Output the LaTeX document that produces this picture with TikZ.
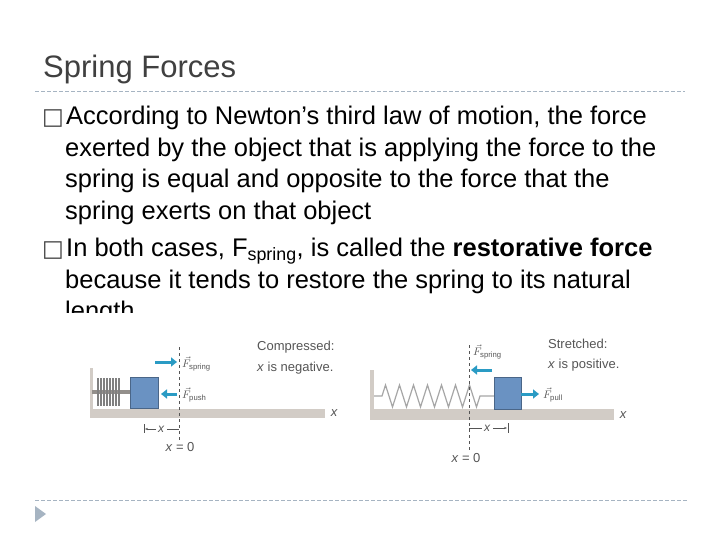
\documentclass[tikz,border=0pt]{standalone}
\usepackage{fontspec}
\setmainfont{Liberation Sans}
\newfontfamily\dejavu{DejaVu Sans}
\usetikzlibrary{arrows.meta,decorations.pathmorphing}
\definecolor{txt}{HTML}{000000}
\definecolor{ttl}{HTML}{404040}
\definecolor{rule}{HTML}{A6B4C2}
\definecolor{blk}{HTML}{6A92C2}
\definecolor{flr}{HTML}{D2CCC6}
\definecolor{arr}{HTML}{2A9BC4}
\definecolor{lab}{HTML}{555555}
\tikzset{
  body/.style={anchor=base west,inner sep=0pt,font=\fontsize{25.5}{25.5}\selectfont,text=txt},
  bul/.style={anchor=base west,inner sep=0pt,font=\dejavu\fontsize{23}{23}\selectfont,text=ttl},
  floor/.style={fill=flr,draw=none},
  block/.style={fill=blk,draw=blk!70!black,line width=0.3pt},
  farrow/.style={draw=arr,line width=3pt,-{Triangle[length=6pt,width=9pt]}},
  small/.style={inner sep=0pt,font=\fontsize{11}{11}\selectfont,text=lab},
  big/.style={inner sep=0pt,font=\fontsize{13}{13}\selectfont,text=lab},
  zero/.style={draw=lab,dashed,line width=0.5pt},
  dim/.style={draw=lab,line width=0.5pt}
}
\begin{document}
\begin{tikzpicture}[x=1pt,y=-1pt]
\useasboundingbox (0,0) rectangle (720,540);
\fill[white] (0,0) rectangle (720,540);
% title and rules
\node[anchor=base west,inner sep=0pt,font=\fontsize{31}{31}\selectfont,text=ttl] (title) at (43,78) {Spring Forces};
\draw[rule,dashed,dash pattern=on 4pt off 2pt,line width=0.6pt] (35,91) coordinate (r1a) -- (685,91) coordinate (r1b);
\draw[rule,dashed,dash pattern=on 4pt off 2pt,line width=0.6pt] (35,500) coordinate (r2a) -- (687,500) coordinate (r2b);
\fill[rule] (35,506) -- (46,514) -- (35,522) -- cycle;
% text
\node[bul] (b1) at (42,125) {□};
\node[body] (l1) at (66,125) {According to Newton’s third law of motion, the force};
\node[body] (l2) at (65,157) {exerted by the object that is applying the force to the};
\node[body] (l3) at (65,188) {spring is equal and opposite to the force that the};
\node[body] (l4) at (65,219) {spring exerts on that object};
\node[bul] (b2) at (42,256) {□};
\node[body] (l5) at (66,256) {In both cases, F\textsubscript{spring}, is called the \textbf{restorative force}};
\node[body] (l6) at (65,288) {because it tends to restore the spring to its natural};
\node[body] (l7) at (65,319) {length};
\fill[white] (40,313) rectangle (680,470);
% left figure
\fill[floor] (90,368) rectangle (93,418);
\fill[floor] (90,409) rectangle (325,418);
\fill[flr!70!black] (92,390) rectangle (132,394);
\foreach \i in {0,...,7} \draw[gray,line width=1.2pt] (98+\i*3,378) -- (98+\i*3,406);
\draw[block] (130,377) rectangle (158,408);
\draw[zero] (179,347) -- (179,453);
\draw[farrow] (155,362) -- (177,362);
\node[small,anchor=west] (lfs) at (182,364) {$\vec F_{\mathrm{spring}}$};
\draw[farrow] (177,394) -- (161,394);
\node[small,anchor=west] (lfp) at (182,395) {$\vec F_{\mathrm{push}}$};
\node[big,anchor=west] (comp) at (257,347) {Compressed:};
\node[big,anchor=west] (neg) at (257,368) {\textit{x} is negative.};
\node[big,font=\itshape\fontsize{13}{13}\selectfont] (lx) at (334,413) {x};
\draw[dim] (144,424) -- (144,433);
\draw[dim,-{Stealth[length=3pt]}] (156,429) -- (145,429);
\draw[dim] (167,429) -- (179,429);
\node[small,font=\itshape\fontsize{12}{12}\selectfont] (ldx) at (161,429) {x};
\node[big,fill=white,inner sep=1pt] (lx0) at (180,447) {\textit{x} = 0};
% right figure
\fill[floor] (370,370) rectangle (374,420);
\fill[floor] (370,409) rectangle (614,420);
\draw[gray!70,line width=1.2pt] (374,396) -- (382,396)
  decorate[decoration={zigzag,segment length=14pt,amplitude=11pt}] {-- (480,396)} -- (494,396);
\draw[block] (494,377) rectangle (521,409);
\draw[zero] (469,345) -- (469,453);
\draw[farrow] (492,370) -- (471,370);
\node[small,anchor=west] (rfs) at (473,352) {$\vec F_{\mathrm{spring}}$};
\draw[farrow] (521,394) -- (539,394);
\node[small,anchor=west] (rfp) at (543,395) {$\vec F_{\mathrm{pull}}$};
\node[big,anchor=west] (str) at (548,344) {Stretched:};
\node[big,anchor=west] (pos) at (548,365) {\textit{x} is positive.};
\node[big,font=\itshape\fontsize{13}{13}\selectfont] (rx) at (623,415) {x};
\draw[dim] (469,428) -- (482,428);
\draw[dim,-{Stealth[length=3pt]}] (493,428) -- (507,428);
\draw[dim] (508,423) -- (508,433);
\node[small,font=\itshape\fontsize{12}{12}\selectfont] (rdx) at (487,428) {x};
\node[big,fill=white,inner sep=1pt] (rx0) at (466,458) {\textit{x} = 0};
\end{tikzpicture}
\end{document}
